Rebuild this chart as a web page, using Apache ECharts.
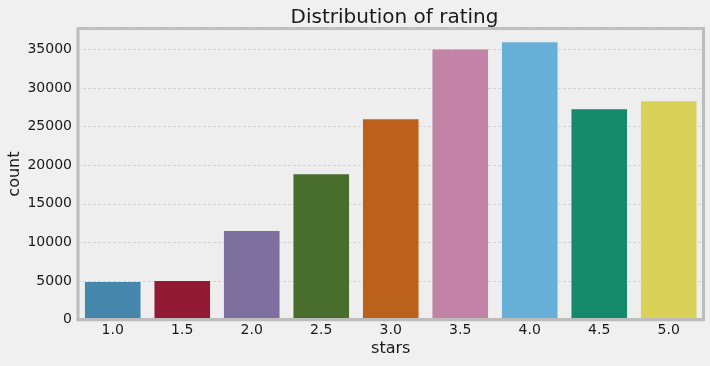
<!DOCTYPE html>
<html>
<head>
<meta charset="utf-8">
<script src="https://cdn.jsdelivr.net/npm/echarts@6/dist/echarts.min.js"></script>
<style>
html,body{margin:0;padding:0;background:#f0f0f0;}
#chart{width:710px;height:366px;}
</style>
</head>
<body>
<div id="chart"></div>
<script>
const categories = ['1.0','1.5','2.0','2.5','3.0','3.5','4.0','4.5','5.0'];
const counts = [4870, 5000, 11470, 18840, 25950, 35000, 35910, 27250, 28280];
const barColors = ['#4586ac','#921a34','#7e709e','#486d2c','#bb611b','#c283a6','#68afd7','#148a6a','#dad258'];
const yTicks = [0, 5000, 10000, 15000, 20000, 25000, 30000, 35000];

const font = 'DejaVu Sans';
const chart = echarts.init(document.getElementById('chart'), null, {renderer:'canvas'});
chart.setOption({
  backgroundColor: '#f0f0f0',
  animation: false,
  title: {
    text: 'Distribution of rating',
    left: 389.5, textAlign: 'center', top: 3,
    textStyle: {fontFamily: font, fontSize: 20, fontWeight: 'normal', color: '#1a1a1a'}
  },
  grid: {
    left: 78, right: 6.5, top: 28.5, bottom: 46.3,
    containLabel: false, outerBoundsMode: 'none',
    show: true, backgroundColor: '#eeeeee', borderColor: '#bcbcbc', borderWidth: 3
  },
  xAxis: {
    type: 'category', data: categories, z: 5,
    name: 'stars', nameLocation: 'middle', nameGap: 21, nameMoveOverlap: false,
    nameTextStyle: {fontFamily: font, fontSize: 16, color: '#1a1a1a'},
    axisLine: {show: true, lineStyle: {color: '#bcbcbc', width: 3}},
    axisTick: {show: false},
    axisLabel: {fontFamily: font, fontSize: 14, color: '#1a1a1a', margin: 4},
    splitLine: {show: false}
  },
  yAxis: {
    type: 'value', min: 0, max: 37705, interval: 5000,
    name: 'count', nameLocation: 'middle', nameGap: 55, nameMoveOverlap: false,
    nameTextStyle: {fontFamily: font, fontSize: 16, color: '#1a1a1a'},
    axisLine: {show: false}, axisTick: {show: false},
    axisLabel: {fontFamily: font, fontSize: 14, color: '#1a1a1a', margin: 6,
      formatter: v => yTicks.includes(v) ? String(v) : ''},
    splitLine: {show: true, lineStyle: {color: '#cbcbcb', width: 0.8, type: [3, 2]}}
  },
  series: [{
    type: 'bar',
    barWidth: '80%',
    data: counts.map((v, i) => ({value: v, itemStyle: {color: barColors[i]}}))
  }]
});
</script>
</body>
</html>
